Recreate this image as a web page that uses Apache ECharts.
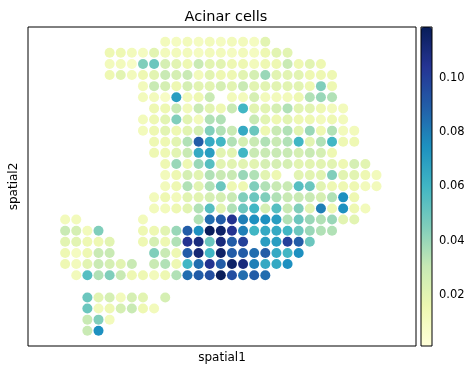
<!DOCTYPE html>
<html><head><meta charset="utf-8">
<script src="https://cdn.jsdelivr.net/npm/echarts@6/dist/echarts.min.js"></script>
<style>html,body{margin:0;padding:0;background:#fff}#c{width:474px;height:372px}</style>
</head><body><div id="c"></div>
<script>
const _ = null;
const chartTitle = 'Acinar cells';
const xLabel = 'spatial1';
const yLabel = 'spatial2';
const colorTicks = [0.02, 0.04, 0.06, 0.08, 0.10];
const vMin = 0.0012, vMax = 0.1188;
const ylgnbu = ['#ffffd9','#edf8b1','#c7e9b4','#7fcdbb','#41b6c4','#1d91c0','#225ea8','#253494','#081d58'];

// each row: [first column, values...]  (null = no spot)
const row00 = [9, 0.012,0.01,0.012,0.01,0.012,0.01,0.012,0.012,0.01,0.02];
const row01 = [4, 0.015,0.015,0.012,0.01,0.02,0.012,0.012,0.012,0.01,0.012,0.012,0.01,0.012,0.01,0.015,0.02,0.02];
const row02 = [4, 0.012,0.012,0.008,0.045,0.05,0.025,0.02,0.015,0.03,0.02,0.02,0.015,0.015,0.012,0.015,0.015,0.03,0.015,0.02,0.015];
const row03 = [4, 0.015,0.02,0.012,0.015,0.02,0.03,0.025,0.03,0.012,0.02,0.015,0.015,0.02,0.025,0.04,0.02,0.02,0.02,0.015,0.015,0.015];
const row04 = [7, 0.012,0.03,0.025,0.015,0.025,0.02,0.02,0.025,0.02,0.03,0.02,0.02,0.02,0.02,0.02,0.015,0.045,0.015];
const row05 = [7, 0.012,0.012,0.008,0.07,0.012,0.015,0.03,_,0.012,0.012,0.025,0.012,0.012,0.012,0.015,0.035,0.04,0.035];
const row06 = [8, 0.015,0.015,0.03,0.012,0.03,0.02,0.015,0.03,0.06,0.02,0.02,0.025,0.035,0.02,0.02,0.015,0.012,0.012];
const row07 = [7, 0.012,0.015,0.02,0.045,0.02,0.012,0.035,0.035,_,_,0.03,0.02,0.015,0.02,0.015,0.015,0.012,0.015,0.012];
const row08 = [7, 0.012,0.015,0.02,0.015,0.02,0.025,0.045,0.035,0.03,0.065,0.05,0.015,0.03,0.035,0.02,0.04,0.015,0.035,0.012,0.012];
const row09 = [8, 0.015,0.015,0.02,0.035,0.09,0.065,0.06,0.035,0.025,0.03,0.035,0.03,0.035,0.06,0.02,0.035,0.06,0.015,0.015];
const row10 = [8, 0.015,0.015,0.02,0.03,0.065,0.07,0.02,0.02,0.06,0.03,0.03,0.03,0.03,0.025,0.03,0.025,0.015];
const row11 = [9, 0.015,0.04,0.015,0.04,0.055,0.02,0.02,0.02,0.02,0.025,0.025,0.025,0.02,0.02,0.02,0.02,0.015,0.025,0.02];
const row12 = [9, 0.012,0.015,0.025,0.02,0.035,0.03,0.03,0.04,0.035,0.02,0.015,_,0.02,0.02,0.02,0.045,0.02,0.02,0.015,0.012];
const row13 = [9, 0.012,0.015,0.035,0.02,0.035,0.05,0.015,0.015,0.045,0.035,0.03,0.03,0.055,0.05,0.02,0.015,0.015,0.015,0.012,0.012];
const row14 = [8, 0.012,0.015,0.012,0.02,0.02,0.025,0.025,0.03,0.045,0.05,0.045,0.035,0.03,0.03,0.03,0.025,0.035,0.075,0.015];
const row15 = [8, 0.012,0.012,0.015,0.02,0.035,0.055,0.02,0.035,0.05,0.06,0.025,0.055,0.03,0.045,0.02,0.08,0.015,0.075,0.015,0.012];
const row16 = [0, 0.012,0.012,_,_,_,_,_,0.012,_,_,_,_,0.035,0.085,0.09,0.105,0.08,0.075,0.075,0.07,0.035,0.05,0.04,0.035,0.04,0.02,0.02];
const row17 = [0, 0.03,0.025,0.012,0.045,_,_,_,0.015,0.015,0.02,0.04,0.09,0.075,0.118,0.115,0.105,0.08,0.06,0.065,0.065,0.06,0.05,0.04,0.035,0.035];
const row18 = [0, 0.02,0.02,0.015,0.015,0.02,_,_,0.015,0.025,0.015,0.035,0.105,0.11,0.05,0.11,0.09,0.1,_,0.07,0.07,0.1,0.09,0.05];
const row19 = [0, 0.015,0.01,0.015,0.03,0.03,_,_,_,0.045,0.03,0.015,0.09,0.112,0.06,0.115,0.09,0.09,0.085,0.09,0.065,0.06,0.075];
const row20 = [0, 0.015,0.012,0.02,0.03,0.025,0.02,0.03,_,0.03,0.035,0.015,0.06,0.085,0.105,0.09,0.115,0.11,0.08,0.065,0.065,0.075];
const row21 = [1, 0.012,0.055,0.035,0.045,0.03,0.015,0.015,0.012,0.015,0.035,0.085,0.09,0.095,0.118,0.095,0.085,0.09,0.085];
const row22 = [0];
const row23 = [2, 0.05,0.02,0.025,0.012,0.025,0.02,_,0.025];
const row24 = [2, 0.05,0.012,0.015,0.025,0.03,0.015,0.012];
const row25 = [2, 0.03,0.045,0.012];
const row26 = [2, 0.03,0.075];

const rows = [row00,row01,row02,row03,row04,row05,row06,row07,row08,row09,row10,row11,row12,row13,
  row14,row15,row16,row17,row18,row19,row20,row21,row22,row23,row24,row25,row26];

const points = [];
rows.forEach((r, ri) => {
  const s = r[0];
  for (let k = 1; k < r.length; k++) {
    if (r[k] !== null) points.push([s + k - 1, ri, r[k]]);
  }
});

const chart = echarts.init(document.getElementById('c'), null, {renderer: 'canvas'});
const font = 'DejaVu Sans';
chart.setOption({
  animation: false,
  backgroundColor: '#fff',
  title: {
    text: chartTitle, left: 221, top: 5, textAlign: 'center',
    textStyle: {fontFamily: font, fontSize: 14.5, fontWeight: 'normal', color: '#000'}
  },
  grid: [
    {left: 26, top: 27, width: 390, height: 319, show: true, borderColor: '#000', borderWidth: 1, backgroundColor: 'transparent'},
    {left: 421, top: 27, width: 11, height: 319, show: true, borderColor: '#000', borderWidth: 1, backgroundColor: 'transparent', z: 10}
  ],
  xAxis: [
    {gridIndex: 0, type: 'value', min: -3.34, max: 31.55,
     axisLine: {show: false}, axisTick: {show: false}, axisLabel: {show: false}, splitLine: {show: false},
     name: xLabel, nameLocation: 'middle', nameGap: 6,
     nameTextStyle: {fontFamily: font, fontSize: 12, color: '#000', verticalAlign: 'top'}},
    {gridIndex: 1, type: 'value', min: 0, max: 1, show: false}
  ],
  yAxis: [
    {gridIndex: 0, type: 'value', inverse: true, min: -1.32, max: 27.37,
     axisLine: {show: false}, axisTick: {show: false}, axisLabel: {show: false}, splitLine: {show: false},
     name: yLabel, nameLocation: 'middle', nameGap: 8, nameRotate: 90,
     nameTextStyle: {fontFamily: font, fontSize: 12, color: '#000'}},
    {gridIndex: 1, type: 'value', min: vMin, max: vMax, position: 'right',
     axisLine: {show: false},
     axisTick: {show: true, length: 3.5, customValues: colorTicks, lineStyle: {color: '#000', width: 1}},
     axisLabel: {show: true, customValues: colorTicks, margin: 7, color: '#000', fontFamily: font, fontSize: 11.5,
                 formatter: v => v.toFixed(2)},
     splitLine: {show: false}}
  ],
  visualMap: {
    type: 'continuous', min: vMin, max: vMax, dimension: 2, seriesIndex: 0,
    inRange: {color: ylgnbu}, calculable: false, orient: 'vertical',
    left: 421, top: 27, itemWidth: 11, itemHeight: 319, padding: 0
  },
  series: [{
    type: 'scatter', xAxisIndex: 0, yAxisIndex: 0, data: points,
    symbol: 'circle', symbolSize: 10, itemStyle: {opacity: 1}
  }]
});
</script></body></html>
